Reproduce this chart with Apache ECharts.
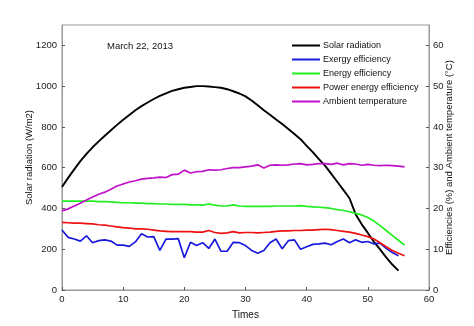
<!DOCTYPE html>
<html><head><meta charset="utf-8">
<script src="https://cdn.jsdelivr.net/npm/echarts@6/dist/echarts.min.js"></script>
<style>html,body{margin:0;padding:0;background:#fff}#c{width:474px;height:326px}</style>
</head><body><div id="c"></div>
<script>
var times = [0,1,2,3,4,5,6,7,8,9,10,11,12,13,14,15,16,17,18,19,20,21,22,23,24,25,26,27,28,29,30,31,32,33,34,35,36,37,38,39,40,41,42,43,44,45,46,47,48,49,50,51,52,53,54,55,56];
var solar = [505,550,592,632,668,700,729,757,784,810,835,859,882,902,920,937,952,965,977,985,992,996,1000,1000,998,995,992,985,975,964,950,930,906,882,860,836,814,790,765,740,707,676,642,610,571,531,491,450,372,322,280,236,199,160,125,95];
var exergy = [14.7,12.9,12.5,12.0,13.3,11.6,12.1,12.3,12.0,11.0,11.0,10.7,11.8,13.8,13.0,13.1,9.7,12.5,12.5,12.6,7.9,11.7,10.9,11.6,10.2,12.5,9.5,9.5,11.7,11.6,10.9,9.7,9.0,9.7,11.6,12.5,10.1,12.1,12.3,10.0,10.6,11.2,11.3,11.5,11.1,11.9,12.5,11.6,12.3,11.7,11.9,11.3,11.5,10.2,9.2,8.4];
var energy = [21.8,21.8,21.8,21.8,21.8,21.8,21.7,21.7,21.6,21.5,21.4,21.4,21.3,21.3,21.2,21.2,21.1,21.1,21.0,21.0,21.0,20.9,20.9,20.8,21.1,20.8,20.6,20.6,20.9,20.6,20.5,20.5,20.5,20.5,20.5,20.6,20.6,20.6,20.6,20.7,20.5,20.4,20.3,20.2,20.0,19.7,19.5,19.2,18.8,18.4,17.8,16.9,15.8,14.6,13.4,12.2,11.0];
var power = [16.6,16.5,16.4,16.4,16.3,16.2,16.0,15.9,15.7,15.5,15.3,15.2,15.0,15.0,14.9,14.7,14.5,14.4,14.3,14.3,14.3,14.3,14.2,14.2,14.6,14.1,13.9,14.0,14.3,14.0,14.1,14.1,14.0,14.1,14.2,14.4,14.5,14.5,14.6,14.6,14.7,14.7,14.8,14.9,14.8,14.6,14.4,14.2,13.9,13.5,13.1,12.5,11.6,10.6,9.7,9.0,8.4];
var ambient = [19.4,19.9,20.6,21.3,22.1,22.8,23.5,24.0,24.7,25.5,26.0,26.5,26.8,27.2,27.4,27.5,27.7,27.6,28.3,28.4,29.4,28.7,29.0,29.1,29.5,29.4,29.5,29.8,30.0,30.0,30.2,30.4,30.7,29.9,30.6,30.7,30.6,30.7,30.9,31.0,30.7,30.8,31.0,31.0,30.8,31.1,30.7,31.0,30.9,30.6,30.8,30.6,30.5,30.6,30.5,30.4,30.2];
var names = ['Solar radiation','Exergy efficiency','Energy efficiency','Power energy efficiency','Ambient temperature'];
var colors = ['#000000','#1a1adc','#22ee22','#ee1111','#c010c8'];

function pairs(vals){ return vals.map(function(v,i){ return [times[i], v]; }); }
var font = 'Liberation Sans, Arial, Helvetica, sans-serif';
var axisGray = '#999999';
var plain = function(v){ return String(v); };
var chart = echarts.init(document.getElementById('c'), null, {renderer:'canvas'});
var seriesData = [solar, exergy, energy, power, ambient];
chart.setOption({
  animation:false,
  backgroundColor:'#fff',
  textStyle:{fontFamily:font},
  grid:{left:62,right:45,top:25,bottom:36,show:true,borderColor:axisGray,borderWidth:1},
  legend:{
    orient:'vertical', left:287, top:35, itemWidth:28, itemHeight:2, itemGap:3, icon:'rect',
    textStyle:{fontSize:9, color:'#111', fontFamily:font, lineHeight:11, padding:[0,0,0,-2]},
    data:names
  },
  graphic:[{type:'text', left:107, top:41, style:{text:'March 22, 2013', font:'9.5px '+font, fill:'#111'}}],
  xAxis:{type:'value',min:0,max:60,interval:10,name:'Times',nameLocation:'middle',nameGap:20,
    nameTextStyle:{fontSize:10,color:'#111',fontFamily:font},
    axisLine:{lineStyle:{color:axisGray}}, axisTick:{inside:true,length:3,lineStyle:{color:'#555'}},
    axisLabel:{fontSize:9.5,color:'#222',margin:4,formatter:plain}, splitLine:{show:false}},
  yAxis:[
    {type:'value',min:0,max:1300,interval:200,name:'Solar radiation (W/m2)',nameLocation:'middle',nameGap:28,
      nameMoveOverlap:false,
      nameTextStyle:{fontSize:9.5,color:'#111',fontFamily:font},
      axisLine:{show:true,lineStyle:{color:axisGray}}, axisTick:{show:true,inside:true,length:3,lineStyle:{color:'#555'}},
      axisLabel:{fontSize:9.5,color:'#222',margin:5,showMaxLabel:false,formatter:plain}, splitLine:{show:false}},
    {type:'value',min:0,max:65,interval:10,position:'right',name:'Efficiencies (%) and Ambient temperature (\u00B0C)',nameLocation:'middle',nameGap:15,
      nameMoveOverlap:false,
      nameTextStyle:{fontSize:9.5,color:'#111',fontFamily:font},
      axisLine:{show:true,lineStyle:{color:axisGray}}, axisTick:{show:true,inside:true,length:3,lineStyle:{color:'#555'}},
      axisLabel:{fontSize:9.5,color:'#222',margin:4,showMaxLabel:false,formatter:plain}, splitLine:{show:false}}
  ],
  series: names.map(function(n,i){
    return {name:n,type:'line',yAxisIndex: i===0?0:1, data:pairs(seriesData[i]), symbol:'none',
      lineStyle:{color:colors[i],width: i===0?1.9:1.7}, itemStyle:{color:colors[i]}};
  })
});
</script></body></html>
